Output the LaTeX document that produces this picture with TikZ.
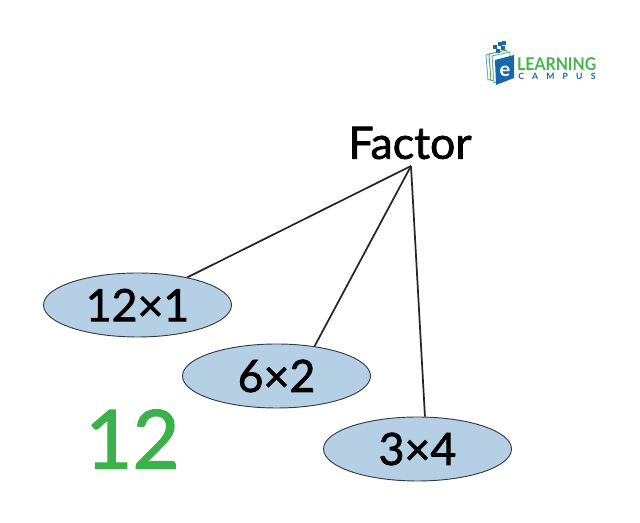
\documentclass[tikz,border=0pt]{standalone}
\usepackage{fontspec}
\setmainfont{Lato}
\newfontfamily\heavyfont[FakeBold=1.5]{Lato}
\newfontfamily\logofont{Lato Bold}
\newfontfamily\logospaced[LetterSpace=94]{Lato Bold}
\usetikzlibrary{shapes.geometric}
\definecolor{pairfill}{RGB}{181,208,228}
\definecolor{pairline}{RGB}{50,60,75}
\definecolor{numgreen}{RGB}{59,177,75}
\definecolor{logoblue}{RGB}{22,104,170}
\definecolor{logogreen}{RGB}{70,180,75}
\tikzset{
	pair/.style={ellipse,draw=pairline,fill=pairfill,line width=0.7pt,minimum width=141pt,minimum height=48pt,inner sep=0pt,font=\heavyfont\fontsize{33.5}{40}\selectfont,text=black},
	stem/.style={draw=black!85,line width=1.3pt},
	logodot/.style={fill=logoblue,inner sep=0pt,minimum size=2.6pt},
}
\begin{document}
\begin{tikzpicture}[x=0.75pt,y=0.75pt,yscale=-1,xscale=1]
	\useasboundingbox (0,0) rectangle (640,523);

	% Text Node
	\node [inner sep=0pt,font=\heavyfont\fontsize{33.5}{40}\selectfont] (factor) at (410,143) {Factor};
	\coordinate (apex) at (411,166);

	% Ellipses
	\node [pair] (pairA) at (137.5,305) {12×1};
	\node [pair] (pairB) at (276.5,376) {6×2};
	\node [pair] (pairC) at (417.5,449) {3×4};

	%Straight Lines
	\draw [stem] (apex) -- (pairA.29);
	\draw [stem] (apex) -- (pairB.38);
	\draw [stem] (apex) -- (pairC.77);

	% Text Node
	\node [inner sep=0pt,text=numgreen,font=\heavyfont\fontsize{61}{74}\selectfont] (number) at (132.5,439) {12};

	% Logo
	\draw [logoblue!60,line width=0.7pt,fill=white] (486,55) -- (504,51) -- (504,75) -- (488,80) -- cycle;
	\draw [logogreen,line width=0.7pt,fill=white] (489,54) -- (507,50) -- (507,76) -- (491,81) -- cycle;
	\draw [logoblue!60,line width=0.7pt,fill=white] (492,56) -- (510,52) -- (510,78) -- (494,83) -- cycle;
	\fill [logoblue] (495,60) -- (514,55) -- (514,78) -- (496,85) -- cycle;
	\node [inner sep=0pt,text=white,font=\logofont\fontsize{15}{18}\selectfont] (logoE) at (505,71) {e};
	\node [logodot] (dotA) at (495,47) {};
	\node [logodot] (dotB) at (500,44) {};
	\node [logodot] (dotC) at (504,43) {};
	\node [logodot] (dotD) at (498,51) {};
	\node [logodot] (dotE) at (503,48) {};
	\node [anchor=west,inner sep=0pt,text=logogreen,xscale=0.9,font=\logofont\fontsize{13.2}{16}\selectfont] (logoTop) at (517,64) {LEARNING};
	\node [anchor=west,inner sep=0pt,text=logoblue,font=\logospaced\fontsize{6.5}{8}\selectfont] (logoBottom) at (518,76.5) {CAMPUS};
\end{tikzpicture}
\end{document}
